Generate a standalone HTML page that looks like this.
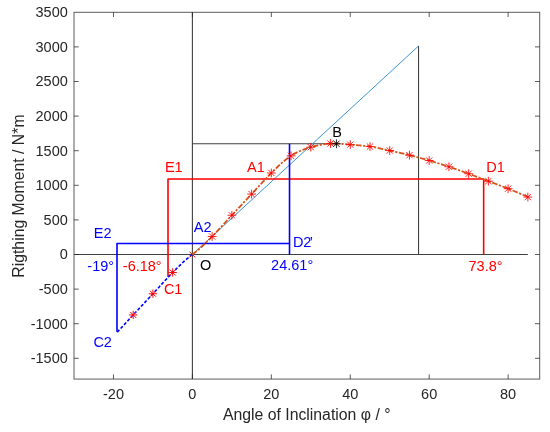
<!DOCTYPE html>
<html><head><meta charset="utf-8"><style>
html,body{margin:0;padding:0;background:#fff;}
body{width:550px;height:432px;overflow:hidden;}
svg{display:block;}
</style></head><body>
<svg width="550" height="432" viewBox="0 0 550 432">
<rect width="550" height="432" fill="#fff"/>
<g stroke="#404040" stroke-width="1.1" fill="none">
<line x1="192.40" y1="12.30" x2="192.40" y2="379.06"/>
<line x1="74.00" y1="254.50" x2="527.86" y2="254.50"/>
<line x1="192.40" y1="143.78" x2="336.45" y2="143.78"/>
<line x1="418.54" y1="46.00" x2="418.54" y2="254.50"/>
</g>
<line x1="192.40" y1="254.50" x2="418.54" y2="46.00" stroke="#3a94d4" stroke-width="1.0"/>
<polyline points="168.01,276.78 168.01,179.07 483.66,179.07 483.66,254.50" fill="none" stroke="#ff0000" stroke-width="1.6" stroke-linejoin="round"/>
<polyline points="117.00,331.80 117.00,243.50 289.52,243.50" fill="none" stroke="#0000ff" stroke-width="1.6" stroke-linejoin="round"/>
<line x1="289.52" y1="254.50" x2="289.52" y2="143.78" stroke="#0000ff" stroke-width="1.6"/>
<polyline points="192.40,254.50 191.12,255.48 189.84,256.49 188.57,257.53 187.29,258.60 186.01,259.70 184.73,260.82 183.45,261.97 182.18,263.14 180.90,264.33 179.62,265.55 178.34,266.79 177.07,268.04 175.79,269.31 174.51,270.60 173.23,271.91 171.96,273.23 170.68,274.56 169.40,275.90 168.12,277.25 166.85,278.62 165.57,279.99 164.29,281.37 163.01,282.75 161.74,284.14 160.46,285.53 159.18,286.93 157.90,288.32 156.62,289.72 155.35,291.11 154.07,292.50 152.79,293.89 151.51,295.27 150.24,296.65 148.96,298.02 147.68,299.39 146.40,300.76 145.13,302.13 143.85,303.50 142.57,304.86 141.29,306.23 140.02,307.59 138.74,308.96 137.46,310.33 136.18,311.70 134.90,313.07 133.63,314.45 132.35,315.83 131.07,317.22 129.79,318.60 128.52,319.99 127.24,321.38 125.96,322.77 124.68,324.15 123.41,325.53 122.13,326.91 120.85,328.28 119.57,329.64 118.30,331.00 117.02,332.34" fill="none" stroke="#0000ff" stroke-width="1.6" stroke-dasharray="3.2 1.8"/>
<path d="M168.47 272.49L176.87 272.49M169.70 269.52L175.64 275.46M172.67 268.29L172.67 276.69M175.64 269.52L169.70 275.46" stroke="#ff0000" stroke-width="0.95" fill="none"/>
<path d="M148.73 293.74L157.13 293.74M149.96 290.77L155.90 296.71M152.93 289.54L152.93 297.94M155.90 290.77L149.96 296.71" stroke="#ff0000" stroke-width="0.95" fill="none"/>
<path d="M129.00 314.91L137.40 314.91M130.23 311.94L136.17 317.88M133.20 310.71L133.20 319.11M136.17 311.94L130.23 317.88" stroke="#ff0000" stroke-width="0.95" fill="none"/>
<path d="M189.50 251.60L195.30 257.40M189.50 257.40L195.30 251.60" stroke="#ff0000" stroke-width="0.95" fill="none"/>
<polyline points="192.40,254.50 193.52,253.64 194.64,252.76 195.76,251.85 196.89,250.92 198.01,249.97 199.13,249.00 200.25,248.01 201.37,247.00 202.50,245.97 203.62,244.93 204.74,243.87 205.86,242.79 206.98,241.69 208.11,240.59 209.23,239.47 210.35,238.33 211.47,237.19 212.59,236.03 213.72,234.86 214.84,233.69 215.96,232.50 217.08,231.31 218.20,230.11 219.33,228.91 220.45,227.70 221.57,226.48 222.69,225.26 223.81,224.04 224.93,222.82 226.06,221.59 227.18,220.37 228.30,219.14 229.42,217.92 230.54,216.70 231.67,215.48 232.79,214.26 233.91,213.05 235.03,211.84 236.15,210.64 237.28,209.43 238.40,208.23 239.52,207.03 240.64,205.83 241.76,204.63 242.89,203.43 244.01,202.23 245.13,201.04 246.25,199.83 247.37,198.63 248.50,197.43 249.62,196.22 250.74,195.01 251.86,193.80 252.98,192.59 254.11,191.37 255.23,190.15 256.35,188.93 257.47,187.71 258.59,186.50 259.72,185.28 260.84,184.07 261.96,182.85 263.08,181.65 264.20,180.45 265.32,179.25 266.45,178.06 267.57,176.88 268.69,175.71 269.81,174.54 270.93,173.39 272.06,172.24 273.18,171.11 274.30,169.99 275.42,168.89 276.54,167.80 277.67,166.73 278.79,165.68 279.91,164.65 281.03,163.64 282.15,162.66 283.28,161.69 284.40,160.76 285.52,159.85 286.64,158.97 287.76,158.13 288.89,157.31 290.01,156.53 291.13,155.78 292.25,155.06 293.37,154.39 294.50,153.74 295.62,153.13 296.74,152.54 297.86,151.99 298.98,151.46 300.11,150.96 301.23,150.48 302.35,150.02 303.47,149.59 304.59,149.17 305.71,148.78 306.84,148.40 307.96,148.03 309.08,147.68 310.20,147.34 311.32,147.02 312.45,146.70 313.57,146.40 314.69,146.11 315.81,145.83 316.93,145.56 318.06,145.30 319.18,145.06 320.30,144.84 321.42,144.63 322.54,144.44 323.67,144.26 324.79,144.10 325.91,143.96 327.03,143.83 328.15,143.73 329.28,143.64 330.40,143.58 331.52,143.53 332.64,143.51 333.76,143.50 334.89,143.51 336.01,143.54 337.13,143.58 338.25,143.63 339.37,143.69 340.50,143.77 341.62,143.85 342.74,143.94 343.86,144.03 344.98,144.13 346.10,144.23 347.23,144.33 348.35,144.44 349.47,144.54 350.59,144.64 351.71,144.74 352.84,144.83 353.96,144.92 355.08,145.01 356.20,145.10 357.32,145.19 358.45,145.29 359.57,145.38 360.69,145.48 361.81,145.59 362.93,145.69 364.06,145.81 365.18,145.93 366.30,146.06 367.42,146.20 368.54,146.34 369.67,146.50 370.79,146.67 371.91,146.85 373.03,147.03 374.15,147.23 375.28,147.44 376.40,147.65 377.52,147.87 378.64,148.10 379.76,148.34 380.89,148.58 382.01,148.82 383.13,149.07 384.25,149.32 385.37,149.57 386.49,149.82 387.62,150.08 388.74,150.34 389.86,150.59 390.98,150.85 392.10,151.10 393.23,151.35 394.35,151.61 395.47,151.86 396.59,152.11 397.71,152.37 398.84,152.62 399.96,152.88 401.08,153.13 402.20,153.39 403.32,153.65 404.45,153.92 405.57,154.18 406.69,154.45 407.81,154.72 408.93,155.00 410.06,155.28 411.18,155.56 412.30,155.84 413.42,156.13 414.54,156.43 415.67,156.72 416.79,157.02 417.91,157.32 419.03,157.63 420.15,157.94 421.28,158.25 422.40,158.56 423.52,158.88 424.64,159.20 425.76,159.52 426.89,159.85 428.01,160.18 429.13,160.51 430.25,160.84 431.37,161.18 432.49,161.51 433.62,161.85 434.74,162.20 435.86,162.54 436.98,162.89 438.10,163.24 439.23,163.59 440.35,163.95 441.47,164.31 442.59,164.67 443.71,165.03 444.84,165.40 445.96,165.77 447.08,166.14 448.20,166.51 449.32,166.89 450.45,167.27 451.57,167.65 452.69,168.03 453.81,168.42 454.93,168.81 456.06,169.20 457.18,169.60 458.30,169.99 459.42,170.39 460.54,170.79 461.67,171.19 462.79,171.60 463.91,172.01 465.03,172.41 466.15,172.82 467.28,173.23 468.40,173.65 469.52,174.06 470.64,174.48 471.76,174.89 472.88,175.31 474.01,175.73 475.13,176.15 476.25,176.57 477.37,176.99 478.49,177.41 479.62,177.84 480.74,178.26 481.86,178.68 482.98,179.11 484.10,179.53 485.23,179.95 486.35,180.38 487.47,180.80 488.59,181.22 489.71,181.65 490.84,182.07 491.96,182.49 493.08,182.91 494.20,183.34 495.32,183.76 496.45,184.19 497.57,184.61 498.69,185.04 499.81,185.47 500.93,185.89 502.06,186.33 503.18,186.76 504.30,187.19 505.42,187.63 506.54,188.07 507.67,188.51 508.79,188.95 509.91,189.40 511.03,189.85 512.15,190.30 513.27,190.76 514.40,191.22 515.52,191.68 516.64,192.15 517.76,192.62 518.88,193.09 520.01,193.57 521.13,194.06 522.25,194.54 523.37,195.04 524.49,195.54 525.62,196.04 526.74,196.55 527.86,197.06" fill="none" stroke="#d95319" stroke-width="1.8" stroke-dasharray="5.5 1.6 2.2 1.6"/>
<path d="M207.73 236.51L216.53 236.51M209.02 233.40L215.24 239.62M212.13 232.11L212.13 240.91M215.24 233.40L209.02 239.62" stroke="#ff0000" stroke-width="0.85" fill="none"/>
<path d="M227.46 215.26L236.26 215.26M228.75 212.15L234.98 218.37M231.86 210.86L231.86 219.66M234.98 212.15L228.75 218.37" stroke="#ff0000" stroke-width="0.85" fill="none"/>
<path d="M247.20 194.09L256.00 194.09M248.49 190.98L254.71 197.20M251.60 189.69L251.60 198.49M254.71 190.98L248.49 197.20" stroke="#ff0000" stroke-width="0.85" fill="none"/>
<path d="M266.93 172.98L275.73 172.98M268.22 169.87L274.44 176.09M271.33 168.58L271.33 177.38M274.44 169.87L268.22 176.09" stroke="#ff0000" stroke-width="0.85" fill="none"/>
<path d="M286.66 155.82L295.46 155.82M287.95 152.71L294.17 158.93M291.06 151.42L291.06 160.22M294.17 152.71L287.95 158.93" stroke="#ff0000" stroke-width="0.85" fill="none"/>
<path d="M306.40 147.17L315.20 147.17M307.69 144.06L313.91 150.28M310.80 142.77L310.80 151.57M313.91 144.06L307.69 150.28" stroke="#ff0000" stroke-width="0.85" fill="none"/>
<path d="M326.13 143.57L334.93 143.57M327.42 140.46L333.64 146.68M330.53 139.17L330.53 147.97M333.64 140.46L327.42 146.68" stroke="#ff0000" stroke-width="0.85" fill="none"/>
<path d="M345.86 144.61L354.66 144.61M347.15 141.50L353.37 147.72M350.26 140.21L350.26 149.01M353.37 141.50L347.15 147.72" stroke="#ff0000" stroke-width="0.85" fill="none"/>
<path d="M365.60 146.55L374.40 146.55M366.88 143.44L373.11 149.66M370.00 142.15L370.00 150.95M373.11 143.44L366.88 149.66" stroke="#ff0000" stroke-width="0.85" fill="none"/>
<path d="M385.33 150.56L394.13 150.56M386.62 147.45L392.84 153.67M389.73 146.16L389.73 154.96M392.84 147.45L386.62 153.67" stroke="#ff0000" stroke-width="0.85" fill="none"/>
<path d="M405.06 155.13L413.86 155.13M406.35 152.02L412.57 158.24M409.46 150.73L409.46 159.53M412.57 152.02L406.35 158.24" stroke="#ff0000" stroke-width="0.85" fill="none"/>
<path d="M424.79 160.53L433.59 160.53M426.08 157.42L432.31 163.64M429.19 156.13L429.19 164.93M432.31 157.42L426.08 163.64" stroke="#ff0000" stroke-width="0.85" fill="none"/>
<path d="M444.53 166.75L453.33 166.75M445.82 163.64L452.04 169.87M448.93 162.35L448.93 171.15M452.04 163.64L445.82 169.87" stroke="#ff0000" stroke-width="0.85" fill="none"/>
<path d="M464.26 173.74L473.06 173.74M465.55 170.63L471.77 176.85M468.66 169.34L468.66 178.14M471.77 170.63L465.55 176.85" stroke="#ff0000" stroke-width="0.85" fill="none"/>
<path d="M483.99 181.15L492.79 181.15M485.28 178.04L491.51 184.26M488.39 176.75L488.39 185.55M491.51 178.04L485.28 184.26" stroke="#ff0000" stroke-width="0.85" fill="none"/>
<path d="M503.73 188.69L512.53 188.69M505.02 185.58L511.24 191.80M508.13 184.29L508.13 193.09M511.24 185.58L505.02 191.80" stroke="#ff0000" stroke-width="0.85" fill="none"/>
<path d="M523.46 197.06L532.26 197.06M524.75 193.95L530.97 200.18M527.86 192.66L527.86 201.46M530.97 193.95L524.75 200.18" stroke="#ff0000" stroke-width="0.85" fill="none"/>
<path d="M332.05 143.78L340.85 143.78M333.34 140.67L339.56 146.89M336.45 139.38L336.45 148.18M339.56 140.67L333.34 146.89" stroke="#000000" stroke-width="0.85" fill="none"/>
<rect x="74.00" y="12.30" width="465.70" height="366.76" fill="none" stroke="#262626" stroke-width="1" opacity="0.75"/>
<path d="M113.47 379.06V374.36M113.47 12.30V17.00M192.40 379.06V374.36M192.40 12.30V17.00M271.33 379.06V374.36M271.33 12.30V17.00M350.26 379.06V374.36M350.26 12.30V17.00M429.19 379.06V374.36M429.19 12.30V17.00M508.13 379.06V374.36M508.13 12.30V17.00M74.00 358.30H78.70M539.70 358.30H535.00M74.00 323.70H78.70M539.70 323.70H535.00M74.00 289.10H78.70M539.70 289.10H535.00M74.00 254.50H78.70M539.70 254.50H535.00M74.00 219.90H78.70M539.70 219.90H535.00M74.00 185.30H78.70M539.70 185.30H535.00M74.00 150.70H78.70M539.70 150.70H535.00M74.00 116.10H78.70M539.70 116.10H535.00M74.00 81.50H78.70M539.70 81.50H535.00M74.00 46.90H78.70M539.70 46.90H535.00" stroke="#262626" stroke-width="1" opacity="0.75" fill="none"/>
<g font-family="'Liberation Sans', Arial, Helvetica, sans-serif" font-size="14.5" fill="#262626">
<text x="113.47" y="399" text-anchor="middle">-20</text>
<text x="192.40" y="399" text-anchor="middle">0</text>
<text x="271.33" y="399" text-anchor="middle">20</text>
<text x="350.26" y="399" text-anchor="middle">40</text>
<text x="429.19" y="399" text-anchor="middle">60</text>
<text x="508.13" y="399" text-anchor="middle">80</text>
<text x="67.8" y="363.20" text-anchor="end">-1500</text>
<text x="67.8" y="328.60" text-anchor="end">-1000</text>
<text x="67.8" y="294.00" text-anchor="end">-500</text>
<text x="67.8" y="259.40" text-anchor="end">0</text>
<text x="67.8" y="224.80" text-anchor="end">500</text>
<text x="67.8" y="190.20" text-anchor="end">1000</text>
<text x="67.8" y="155.60" text-anchor="end">1500</text>
<text x="67.8" y="121.00" text-anchor="end">2000</text>
<text x="67.8" y="86.40" text-anchor="end">2500</text>
<text x="67.8" y="51.80" text-anchor="end">3000</text>
<text x="67.8" y="17.20" text-anchor="end">3500</text>
<text x="306.7" y="420.3" text-anchor="middle" font-size="15.8">Angle of Inclination φ / °</text>
<text transform="translate(24.1 196.1) rotate(-90)" text-anchor="middle" font-size="15.8">Rigthing Moment / N*m</text>
</g>
<g font-family="'Liberation Sans', Arial, Helvetica, sans-serif" font-size="14.5">
<text x="164.90" y="172.00" fill="#ff0000">E1</text>
<text x="247.10" y="171.90" fill="#ff0000">A1</text>
<text x="486.20" y="172.00" fill="#ff0000">D1</text>
<text x="122.80" y="270.60" fill="#ff0000">-6.18°</text>
<text x="163.90" y="293.60" fill="#ff0000">C1</text>
<text x="468.50" y="270.60" fill="#ff0000">73.8°</text>
<text x="93.80" y="237.60" fill="#0000ff">E2</text>
<text x="193.80" y="232.30" fill="#0000ff">A2</text>
<text x="292.90" y="246.90" fill="#0000ff">D2<tspan dx="-1.6">’</tspan></text>
<text x="87.30" y="270.60" fill="#0000ff">-19°</text>
<text x="271.10" y="270.20" fill="#0000ff">24.61°</text>
<text x="93.40" y="346.50" fill="#0000ff">C2</text>
<text x="200.10" y="270.20" fill="#000000">O</text>
<text x="332.20" y="136.70" fill="#000000">B</text>
</g>
</svg>
</body></html>
